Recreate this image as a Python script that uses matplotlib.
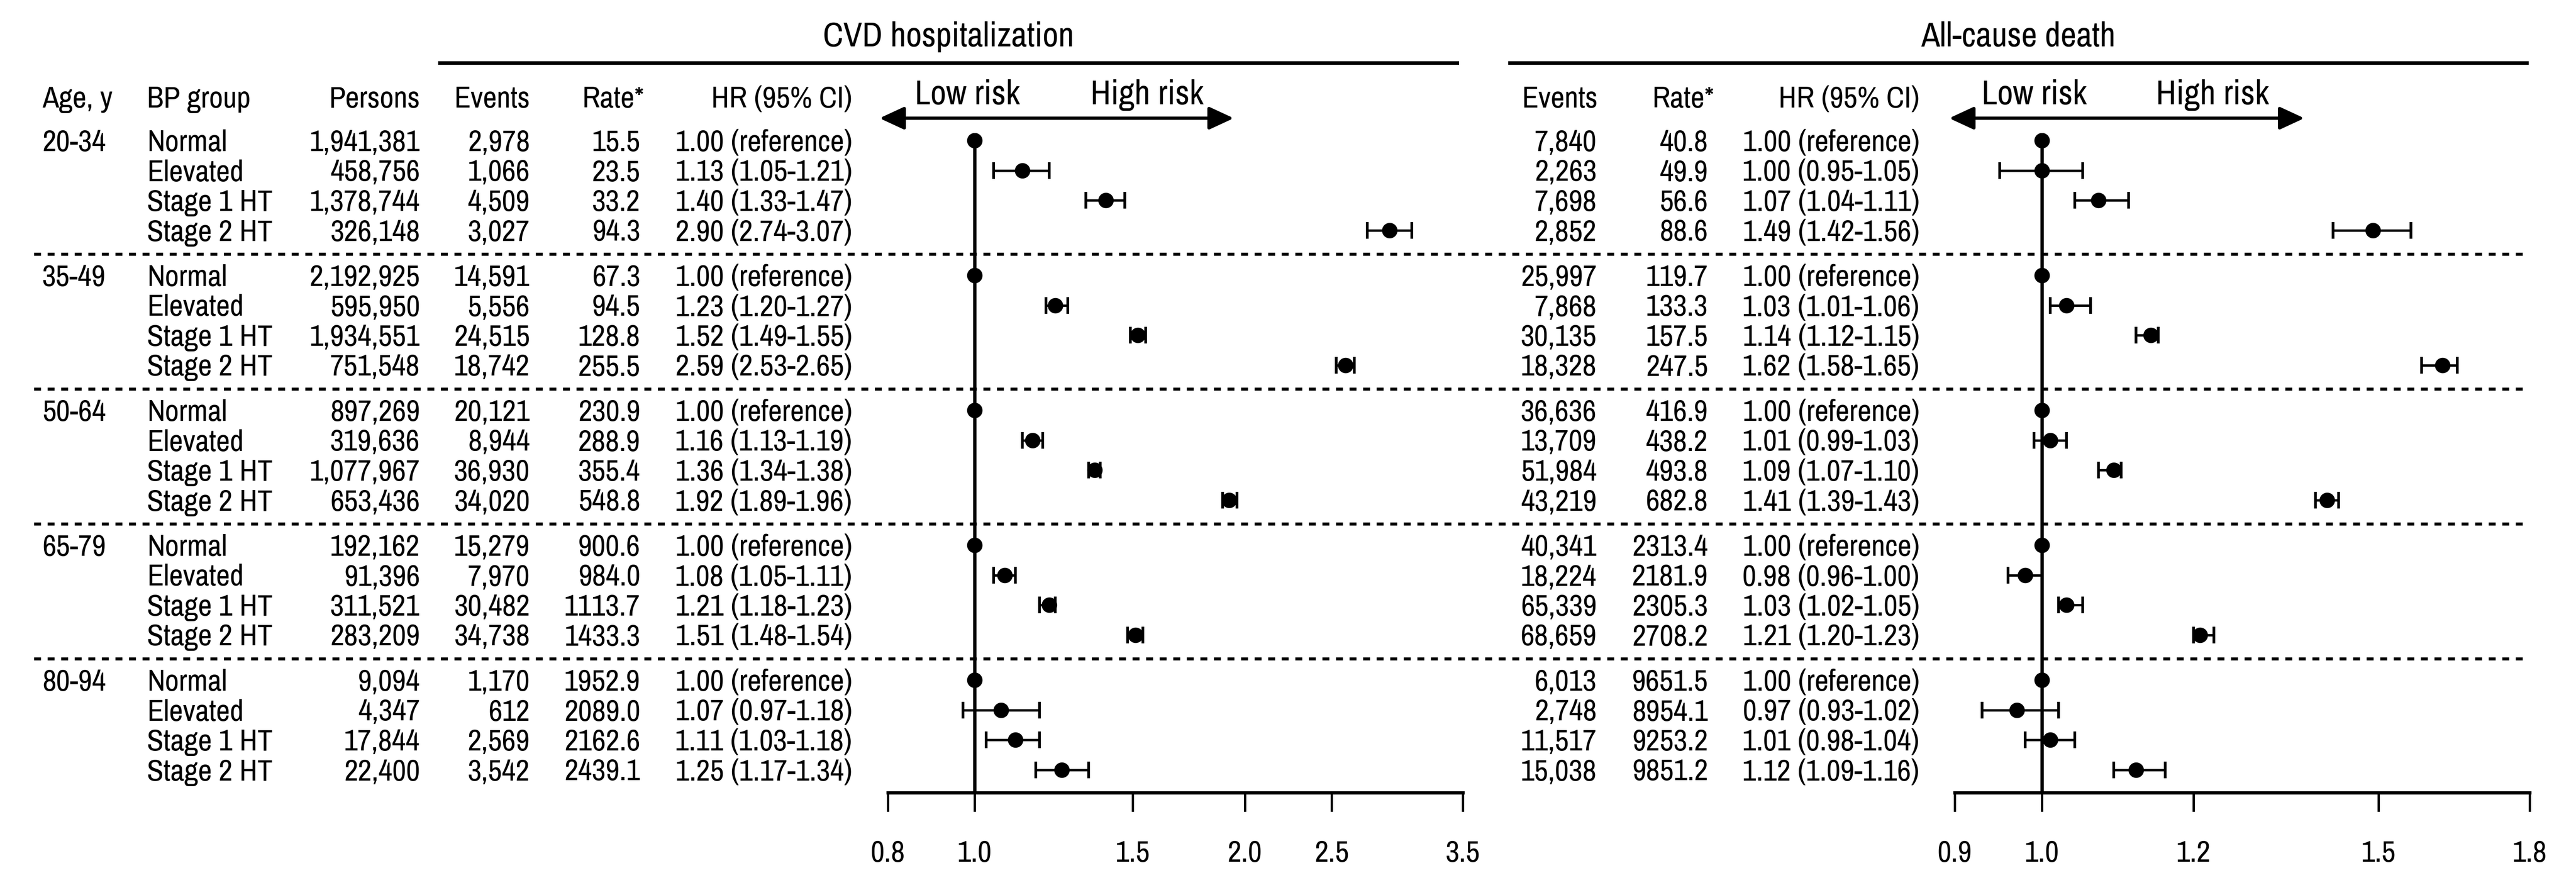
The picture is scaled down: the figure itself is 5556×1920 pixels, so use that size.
import numpy as np
import matplotlib
matplotlib.use('Agg')
import matplotlib.pyplot as plt
from matplotlib import font_manager
from matplotlib.ticker import NullLocator, FixedLocator, FixedFormatter

W, H, DPI = 5556, 1920, 300

names = {f.name for f in font_manager.fontManager.ttflist}
FONT = 'Liberation Sans'
for cand in ['Liberation Sans Narrow', 'Arial Narrow', 'Archivo Narrow', 'Roboto Condensed']:
    if cand in names:
        FONT = cand
        break
plt.rcParams['font.family'] = [FONT, 'DejaVu Sans']

ages = ['20-34', '35-49', '50-64', '65-79', '80-94']
bp_groups = ['Normal', 'Elevated', 'Stage 1 HT', 'Stage 2 HT']

persons = [1941381, 458756, 1378744, 326148,
           2192925, 595950, 1934551, 751548,
           897269, 319636, 1077967, 653436,
           192162, 91396, 311521, 283209,
           9094, 4347, 17844, 22400]

cvd_events = [2978, 1066, 4509, 3027,
              14591, 5556, 24515, 18742,
              20121, 8944, 36930, 34020,
              15279, 7970, 30482, 34738,
              1170, 612, 2569, 3542]
cvd_rate = [15.5, 23.5, 33.2, 94.3,
            67.3, 94.5, 128.8, 255.5,
            230.9, 288.9, 355.4, 548.8,
            900.6, 984.0, 1113.7, 1433.3,
            1952.9, 2089.0, 2162.6, 2439.1]
cvd_hr = [1.00, 1.13, 1.40, 2.90,
          1.00, 1.23, 1.52, 2.59,
          1.00, 1.16, 1.36, 1.92,
          1.00, 1.08, 1.21, 1.51,
          1.00, 1.07, 1.11, 1.25]
cvd_lo = [np.nan, 1.05, 1.33, 2.74,
          np.nan, 1.20, 1.49, 2.53,
          np.nan, 1.13, 1.34, 1.89,
          np.nan, 1.05, 1.18, 1.48,
          np.nan, 0.97, 1.03, 1.17]
cvd_hi = [np.nan, 1.21, 1.47, 3.07,
          np.nan, 1.27, 1.55, 2.65,
          np.nan, 1.19, 1.38, 1.96,
          np.nan, 1.11, 1.23, 1.54,
          np.nan, 1.18, 1.18, 1.34]

death_events = [7840, 2263, 7698, 2852,
                25997, 7868, 30135, 18328,
                36636, 13709, 51984, 43219,
                40341, 18224, 65339, 68659,
                6013, 2748, 11517, 15038]
death_rate = [40.8, 49.9, 56.6, 88.6,
              119.7, 133.3, 157.5, 247.5,
              416.9, 438.2, 493.8, 682.8,
              2313.4, 2181.9, 2305.3, 2708.2,
              9651.5, 8954.1, 9253.2, 9851.2]
death_hr = [1.00, 1.00, 1.07, 1.49,
            1.00, 1.03, 1.14, 1.62,
            1.00, 1.01, 1.09, 1.41,
            1.00, 0.98, 1.03, 1.21,
            1.00, 0.97, 1.01, 1.12]
death_lo = [np.nan, 0.95, 1.04, 1.42,
            np.nan, 1.01, 1.12, 1.58,
            np.nan, 0.99, 1.07, 1.39,
            np.nan, 0.96, 1.02, 1.20,
            np.nan, 0.93, 0.98, 1.09]
death_hi = [np.nan, 1.05, 1.11, 1.56,
            np.nan, 1.06, 1.15, 1.65,
            np.nan, 1.03, 1.10, 1.43,
            np.nan, 1.00, 1.05, 1.23,
            np.nan, 1.02, 1.04, 1.16]

cvd_ticks = [0.8, 1.0, 1.5, 2.0, 2.5, 3.5]
death_ticks = [0.9, 1.0, 1.2, 1.5, 1.8]

FS = 15.7
FS_T = 17.8
BASE = 23          # shift from glyph centre to baseline, px
ROW0, GSTEP, RSTEP = 303, 291, 64.5
AX_TOP, AX_BOT = 287, 1710


def row_y(i):
    g, r = divmod(i, 4)
    return ROW0 + g * GSTEP + r * RSTEP


def hr_text(hr, lo, hi):
    if np.isnan(lo):
        return f'{hr:.2f} (reference)'
    return f'{hr:.2f} ({lo:.2f}-{hi:.2f})'


fig = plt.figure(figsize=(W / DPI, H / DPI), dpi=DPI)
ax0 = fig.add_axes([0, 0, 1, 1])
ax0.set_xlim(0, W)
ax0.set_ylim(H, 0)
ax0.axis('off')


def txt(x, y, s, ha='left', size=FS):
    ax0.text(x, y, s, ha=ha, va='baseline', fontsize=size, color='black')


# section titles and rules
txt(2046, 100, 'CVD hospitalization', ha='center', size=FS_T)
txt(4353, 100, 'All-cause death', ha='center', size=FS_T)
ax0.plot([945, 3147], [136, 136], color='black', lw=1.85, solid_capstyle='butt')
ax0.plot([3253, 5454], [136, 136], color='black', lw=1.85, solid_capstyle='butt')

# column headers
hy = 232
txt(91, hy, 'Age, y')
txt(317, hy, 'BP group')
txt(906, hy, 'Persons', ha='right')
txt(1143, hy, 'Events', ha='right')
txt(1389, hy, 'Rate*', ha='right')
txt(1838, hy, 'HR (95% CI)', ha='right')
txt(3446, hy, 'Events', ha='right')
txt(3697, hy, 'Rate*', ha='right')
txt(4140, hy, 'HR (95% CI)', ha='right')

# risk arrows
for x1, x2, xl, xh in [(1897, 2661, 2086, 2474), (4204, 4970, 4387, 4772)]:
    ax0.annotate('', xy=(x2, 255), xytext=(x1, 255),
                 arrowprops=dict(arrowstyle='<|-|>,head_length=10.8,head_width=5.0',
                                 lw=1.7, color='black', shrinkA=0, shrinkB=0,
                                 mutation_scale=1))
    txt(xl, 225, 'Low risk', ha='center', size=FS_T)
    txt(xh, 225, 'High risk', ha='center', size=FS_T)

# table body
for i in range(20):
    y = row_y(i) + BASE
    g, r = divmod(i, 4)
    if r == 0:
        txt(91, y, ages[g])
    txt(317, y, bp_groups[r])
    txt(906, y, f'{persons[i]:,}', ha='right')
    txt(1143, y, f'{cvd_events[i]:,}', ha='right')
    txt(1381, y, f'{cvd_rate[i]:.1f}', ha='right')
    txt(1838, y, hr_text(cvd_hr[i], cvd_lo[i], cvd_hi[i]), ha='right')
    txt(3444, y, f'{death_events[i]:,}', ha='right')
    txt(3684, y, f'{death_rate[i]:.1f}', ha='right')
    txt(4140, y, hr_text(death_hr[i], death_lo[i], death_hi[i]), ha='right')

# dotted separators between age groups
for g in range(4):
    ys = ROW0 + g * GSTEP + 3 * RSTEP + 51
    ax0.plot([73, 5454], [ys, ys], color='black', lw=1.56,
             dashes=(2.3, 2.2), dash_capstyle='butt')


def forest(left, right, xmin, xmax, hr, lo, hi, ticks):
    ax = fig.add_axes([left / W, 1 - AX_BOT / H, (right - left) / W, (AX_BOT - AX_TOP) / H])
    ax.set_facecolor('none')
    ax.set_xscale('log')
    ax.set_xlim(xmin, xmax)
    ax.set_ylim(AX_BOT, AX_TOP)
    hr, lo, hi = np.array(hr), np.array(lo), np.array(hi)
    ys = np.array([row_y(i) for i in range(len(hr))])
    ref = np.isnan(lo)
    ax.axvline(1.0, color='black', lw=1.75, zorder=1)
    ax.errorbar(hr[~ref], ys[~ref], xerr=[hr[~ref] - lo[~ref], hi[~ref] - hr[~ref]],
                fmt='o', color='black', ms=7, elinewidth=1.25, capsize=4.4,
                capthick=1.4, zorder=3)
    ax.plot(hr[ref], ys[ref], 'o', color='black', ms=7, zorder=3)
    for s in ['left', 'right', 'top']:
        ax.spines[s].set_visible(False)
    ax.spines['bottom'].set_linewidth(1.7)
    ax.yaxis.set_visible(False)
    ax.xaxis.set_major_locator(FixedLocator(ticks))
    ax.xaxis.set_major_formatter(FixedFormatter([f'{t:.1f}' for t in ticks]))
    ax.xaxis.set_minor_locator(NullLocator())
    ax.tick_params(axis='x', direction='out', length=9.8, width=1.2,
                   pad=14.6, labelsize=FS)
    return ax


forest(1915, 3155, 0.8, 3.5, cvd_hr, cvd_lo, cvd_hi, cvd_ticks)
forest(4216, 5456, 0.9, 1.8, death_hr, death_lo, death_hi, death_ticks)

fig.savefig('out.png', dpi=DPI, facecolor='white')
